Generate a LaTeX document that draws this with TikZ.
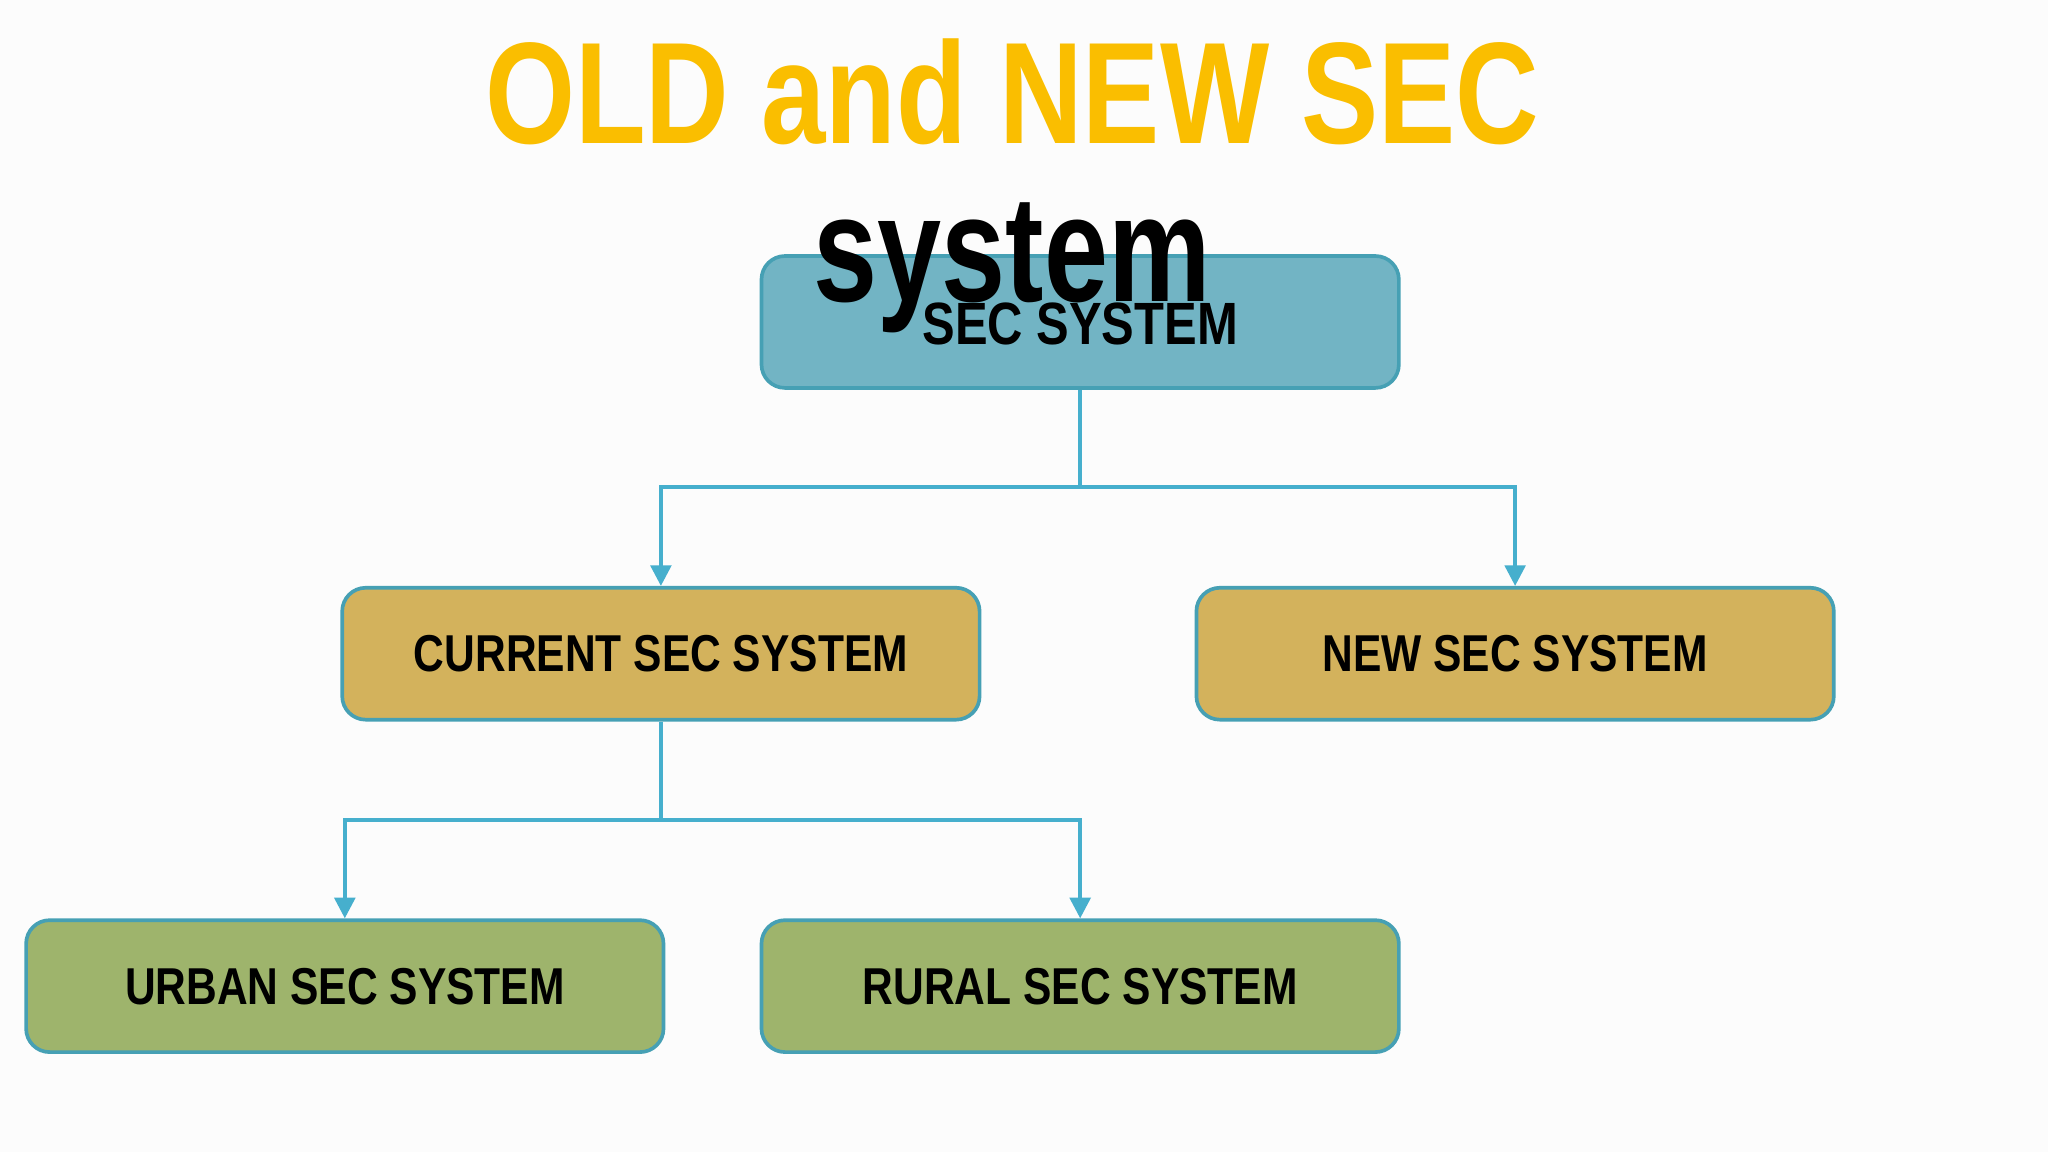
\documentclass[tikz,border=0pt]{standalone}
\usepackage{fontspec}
\setmainfont{Liberation Sans}
\usetikzlibrary{arrows.meta}
\definecolor{ttl}{RGB}{250,190,0}
\definecolor{topf}{RGB}{114,180,196}
\definecolor{midf}{RGB}{211,178,92}
\definecolor{botf}{RGB}{158,180,108}
\definecolor{edge}{RGB}{70,160,180}
\definecolor{conn}{RGB}{70,175,205}
\tikzset{
 box/.style={draw=edge, line width=0.8pt, rounded corners=0.18cm, minimum width=4.88cm, minimum height=1.01cm, font=\bfseries\fontsize{11.3}{11.3}\selectfont},
 conn/.style={draw=conn, line width=0.8pt},
 arr/.style={conn, -{Triangle[width=4.5pt,length=4.5pt]}}
}
\newcommand{\nar}[1]{\scalebox{0.82}[1]{#1}}
\begin{document}
\begin{tikzpicture}
\useasboundingbox (0,0) rectangle (15.68,8.82);
\fill[white!98!gray] (0,0) rectangle (15.68,8.82);
\node[box, fill=topf] (top) at (8.27,6.355) {};
\node[box, fill=midf] (cur) at (5.06,3.815) {\nar{CURRENT SEC SYSTEM}};
\node[box, fill=midf] (new) at (11.60,3.815) {\nar{NEW SEC SYSTEM}};
\node[box, fill=botf] (urb) at (2.64,1.27) {\nar{URBAN SEC SYSTEM}};
\node[box, fill=botf] (rur) at (8.27,1.27) {\nar{RURAL SEC SYSTEM}};
\node[font=\bfseries\fontsize{13}{13}\selectfont] (toplbl) at (8.27,6.34) {\nar{SEC SYSTEM}};
\node[font=\bfseries\fontsize{31.5}{31.5}\selectfont, text=ttl] (title) at (7.75,8.12) {\scalebox{0.8}[1]{OLD and NEW SEC}};
\node[font=\bfseries\fontsize{33}{33}\selectfont] (sys) at (7.75,6.77) {\scalebox{0.76}[1]{system}};
\coordinate (j1) at (8.27,5.09);
\coordinate (j2) at (5.06,2.54);
\draw[conn] (top.south) -- (j1);
\draw[arr] (j1) -| (cur.north);
\draw[arr] (j1) -| (new.north);
\draw[conn] (cur.south) -- (j2);
\draw[arr] (j2) -| (urb.north);
\draw[arr] (j2) -| (rur.north);
\end{tikzpicture}
\end{document}
